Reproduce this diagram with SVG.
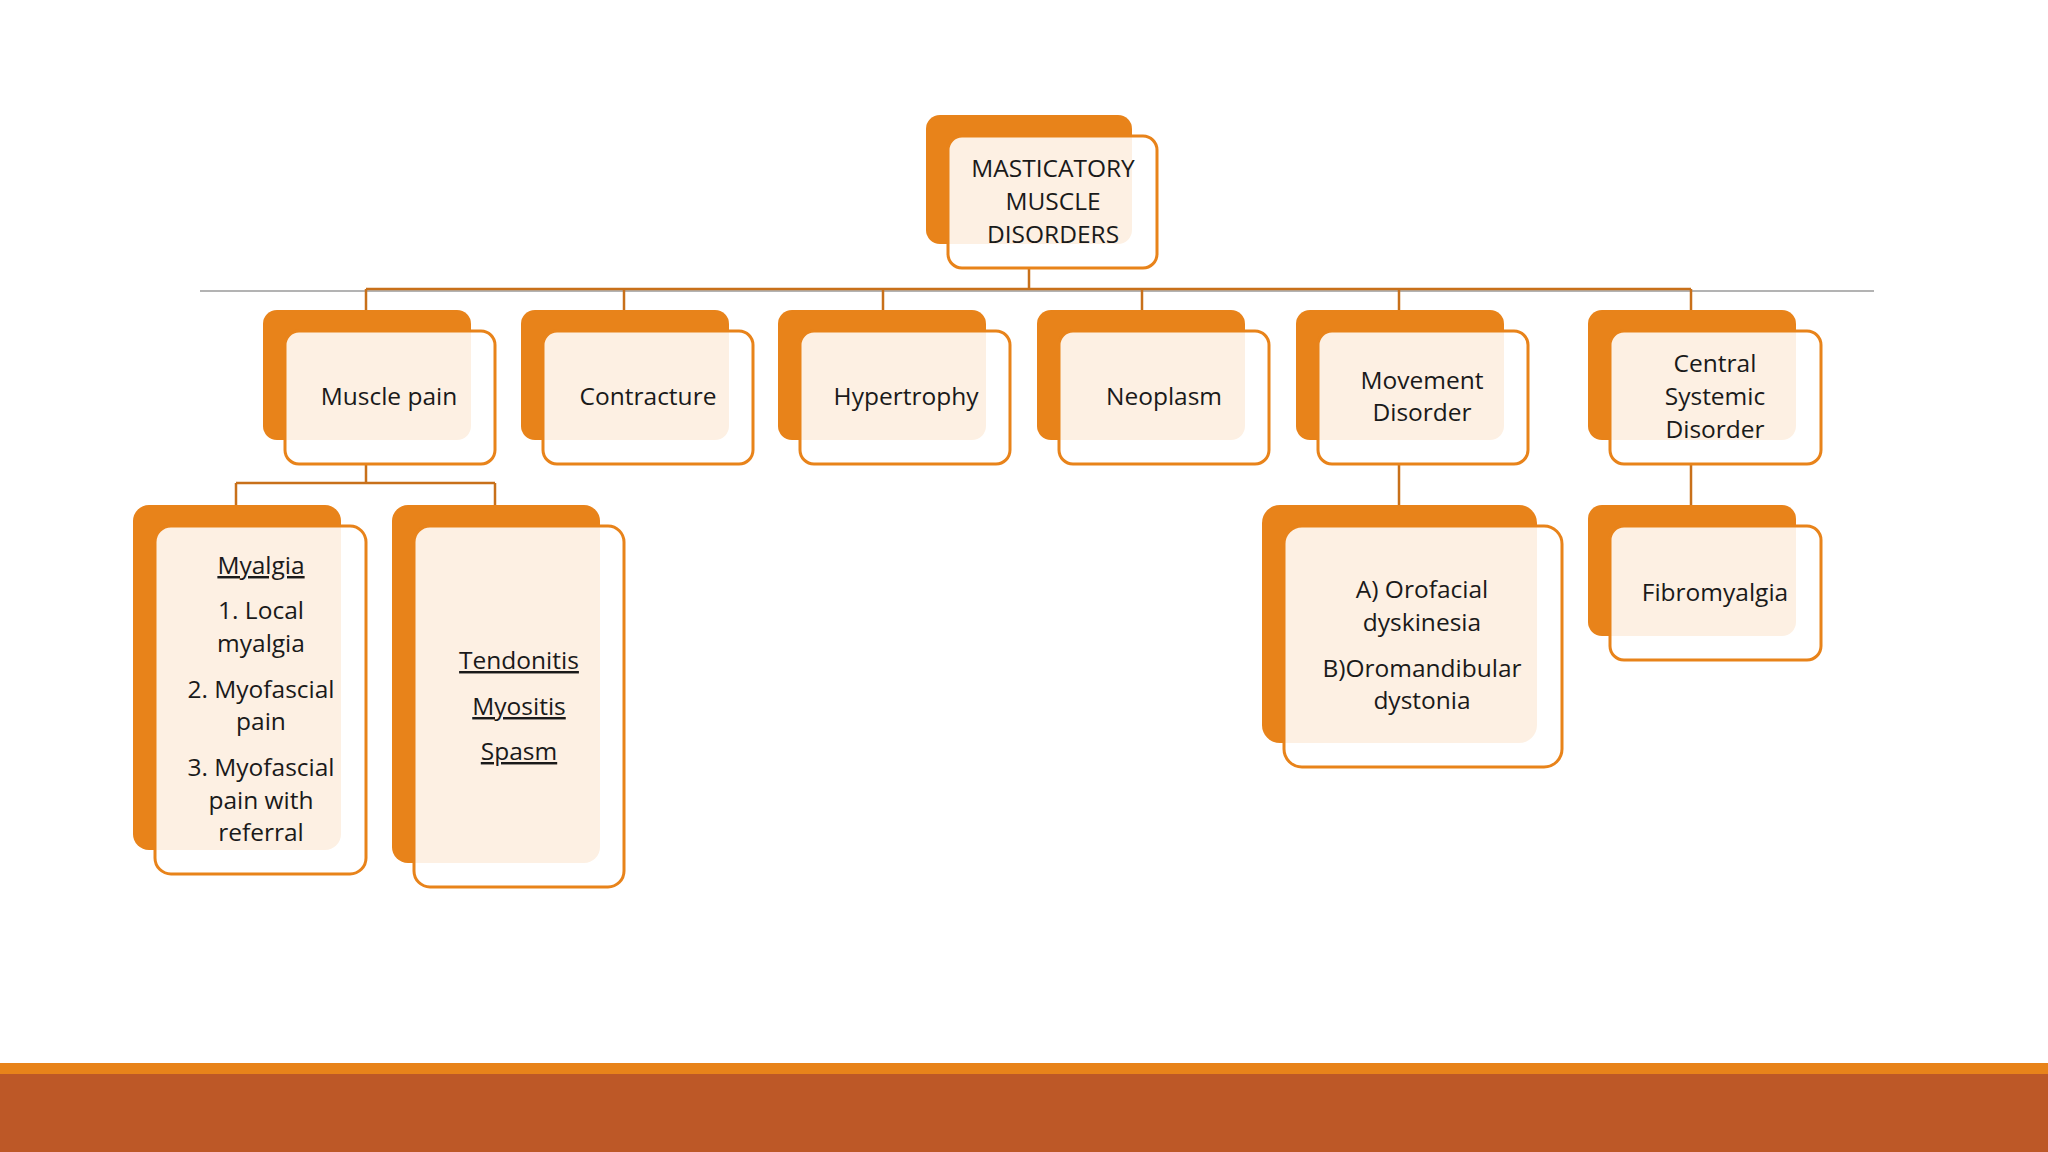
<svg xmlns="http://www.w3.org/2000/svg" width="2048" height="1152" viewBox="0 0 2048 1152">
<style>
.b{fill:#E8831A}
.f{fill:#fff;fill-opacity:0.88;stroke:#E8831A;stroke-width:3}
.c{fill:none;stroke:#C8701A;stroke-width:2.5}
text{font-family:"Open Sans","Liberation Sans",sans-serif;font-size:24.5px;fill:#1a1a1a;text-anchor:middle}
.u{text-decoration:underline}
</style>
<rect width="2048" height="1152" fill="#fff"/>
<line x1="200" y1="291" x2="1874" y2="291" stroke="#9a9a9a" stroke-width="1.5"/>
<g id="connectors">
<path class="c" d="M1029 268V289M366 289H1691M366 289V330M624 289V330M883 289V330M1142 289V330M1399 289V330M1691 289V330"/>
<path class="c" d="M366 464V483M236 483H495M236 483V505M495 483V505M1399 464V505M1691 464V505"/>
</g>
<g id="root"><rect class="b" x="926" y="115" width="206" height="129" rx="14"/><rect class="f" x="948" y="136" width="209" height="132" rx="14"/>
<text x="1053" y="177">MASTICATORY</text><text x="1053" y="210">MUSCLE</text><text x="1053" y="243">DISORDERS</text></g>
<g id="n1"><rect class="b" x="263" y="310" width="208" height="130" rx="14"/><rect class="f" x="285" y="331" width="210" height="133" rx="14"/><text x="389" y="405">Muscle pain</text></g>
<g id="n2"><rect class="b" x="521" y="310" width="208" height="130" rx="14"/><rect class="f" x="543" y="331" width="210" height="133" rx="14"/><text x="648" y="405">Contracture</text></g>
<g id="n3"><rect class="b" x="778" y="310" width="208" height="130" rx="14"/><rect class="f" x="800" y="331" width="210" height="133" rx="14"/><text x="906" y="405">Hypertrophy</text></g>
<g id="n4"><rect class="b" x="1037" y="310" width="208" height="130" rx="14"/><rect class="f" x="1059" y="331" width="210" height="133" rx="14"/><text x="1164" y="405">Neoplasm</text></g>
<g id="n5"><rect class="b" x="1296" y="310" width="208" height="130" rx="14"/><rect class="f" x="1318" y="331" width="210" height="133" rx="14"/><text x="1422" y="389">Movement</text><text x="1422" y="421">Disorder</text></g>
<g id="n6"><rect class="b" x="1588" y="310" width="208" height="130" rx="14"/><rect class="f" x="1610" y="331" width="211" height="133" rx="14"/><text x="1715" y="372">Central</text><text x="1715" y="405">Systemic</text><text x="1715" y="438">Disorder</text></g>
<g id="c1"><rect class="b" x="133" y="505" width="208" height="345" rx="16"/><rect class="f" x="155" y="526" width="211" height="348" rx="16"/>
<text class="u" x="261" y="574">Myalgia</text><text x="261" y="619">1. Local</text><text x="261" y="652">myalgia</text><text x="261" y="698">2. Myofascial</text><text x="261" y="730">pain</text><text x="261" y="776">3. Myofascial</text><text x="261" y="809">pain with</text><text x="261" y="841">referral</text></g>
<g id="c2"><rect class="b" x="392" y="505" width="208" height="358" rx="16"/><rect class="f" x="414" y="526" width="210" height="361" rx="16"/>
<text class="u" x="519" y="669">Tendonitis</text><text class="u" x="519" y="715">Myositis</text><text class="u" x="519" y="760">Spasm</text></g>
<g id="c3"><rect class="b" x="1262" y="505" width="275" height="238" rx="18"/><rect class="f" x="1284" y="526" width="278" height="241" rx="18"/>
<text x="1422" y="598">A) Orofacial</text><text x="1422" y="631">dyskinesia</text><text x="1422" y="677">B)Oromandibular</text><text x="1422" y="709">dystonia</text></g>
<g id="c4"><rect class="b" x="1588" y="505" width="208" height="131" rx="14"/><rect class="f" x="1610" y="526" width="211" height="134" rx="14"/><text x="1715" y="601">Fibromyalgia</text></g>
<rect x="0" y="1063" width="2048" height="12" fill="#E8831A"/>
<rect x="0" y="1074" width="2048" height="78" fill="#BD5827"/>
</svg>
